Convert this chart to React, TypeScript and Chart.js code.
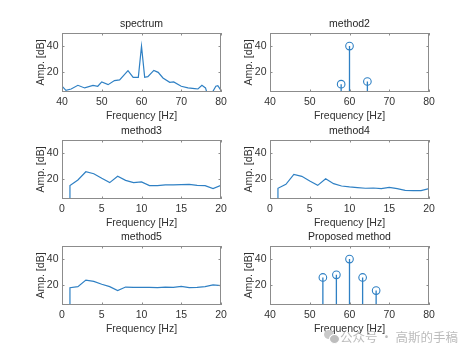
import React, { useEffect, useRef } from "react";
import { Chart, registerables } from "chart.js";
Chart.register(...registerables);

// ---------- data ----------
const specFreq = [40, 41, 42.3, 44, 45.7, 47.8, 49, 50, 51.6, 53.2, 54.5, 56.6, 57.9, 59.2, 60, 60.8, 61.6, 63.1, 64.2, 65.4, 67.1, 68.1, 70, 71.7, 73.4, 74.2, 75.2, 76.1, 76.7, 77.5, 78.7, 79.2, 80];
const specAmp = [9.4, 6.3, 7.3, 10.1, 8.1, 10.1, 9.4, 12.7, 10.6, 13.7, 14.2, 21.3, 16.2, 16.2, 40, 16.2, 16.7, 21.5, 20, 15.7, 12.4, 12.7, 9.4, 8.1, 7.6, 7.3, 10.1, 8.1, 2, 3, 9.4, 9.8, 6.3];

const m2Freq = [57.9, 60, 64.5];
const m2Amp = [11, 40, 13];

const lowFreq = [0.95, 1, 2, 3, 4, 5, 6, 7, 8, 9, 10, 11, 12, 13, 14, 15, 16, 17, 18, 19, 20];
const m3Amp = [-20, 15.2, 19.5, 25.8, 24.3, 20.8, 17.5, 22.3, 19.2, 17.5, 18, 15.2, 15.2, 15.7, 15.7, 16, 16.2, 15.4, 15.2, 12.9, 15.4];
const m4Amp = [-20, 13.2, 16.2, 23.8, 22.3, 18.7, 15.4, 20.5, 16.7, 14.9, 14.2, 13.7, 13.2, 13.4, 12.9, 13.9, 12.9, 11.6, 11.4, 11.4, 12.9];
const m5Amp = [-20, 18.2, 19, 24, 23, 20.8, 19, 16, 18.7, 18.5, 18.5, 18.5, 18.2, 18.7, 18.5, 19.2, 18.2, 18.5, 19, 20.3, 19.7];

const propFreq = [53.3, 56.7, 60, 63.3, 66.7];
const propAmp = [26, 28, 40, 26, 16];

const yTicks = [20, 40];
const highXTicks = [40, 50, 60, 70, 80];
const lowXTicks = [0, 5, 10, 15, 20];

const titles = ["spectrum", "method2", "method3", "method4", "method5", "Proposed method"];
const xLabel = "Frequency [Hz]";
const yLabel = "Amp. [dB]";

// ---------- layout constants ----------
const PAD_L = 50, PAD_T = 30, PAD_R = 12, PAD_B = 32;
const PLOT_W = 159, PLOT_H = 59;
const COL_LEFT = [62, 270];
const ROW_TOP = [33, 140, 246];

const LINE_COLOR = "#2f80c4";
const FONT_FAMILY = "'Liberation Sans', Arial, Helvetica, sans-serif";
const FONT_SIZE = 10.5;

type Spec = {
  title: string;
  kind: "line" | "stem";
  freq: number[];
  amp: number[];
  xTicks: number[];
  col: number;
  row: number;
};

const specs: Spec[] = [
  { title: titles[0], kind: "line", freq: specFreq, amp: specAmp, xTicks: highXTicks, col: 0, row: 0 },
  { title: titles[1], kind: "stem", freq: m2Freq, amp: m2Amp, xTicks: highXTicks, col: 1, row: 0 },
  { title: titles[2], kind: "line", freq: lowFreq, amp: m3Amp, xTicks: lowXTicks, col: 0, row: 1 },
  { title: titles[3], kind: "line", freq: lowFreq, amp: m4Amp, xTicks: lowXTicks, col: 1, row: 1 },
  { title: titles[4], kind: "line", freq: lowFreq, amp: m5Amp, xTicks: lowXTicks, col: 0, row: 2 },
  { title: titles[5], kind: "stem", freq: propFreq, amp: propAmp, xTicks: highXTicks, col: 1, row: 2 },
];

const boxPlugin = {
  id: "matlabBox",
  afterDatasetsDraw(chart: any) {
    const { ctx, chartArea: a, scales } = chart;
    ctx.save();
    ctx.strokeStyle = "#8c8c8c";
    ctx.lineWidth = 1;
    ctx.strokeRect(a.left + 0.5, a.top + 0.5, a.right - a.left - 1, a.bottom - a.top - 1);
    const tl = 2.5;
    ctx.beginPath();
    for (const t of scales.x.ticks) {
      const px = Math.round(scales.x.getPixelForValue(t.value)) + 0.5;
      ctx.moveTo(px, a.bottom);
      ctx.lineTo(px, a.bottom - tl);
      ctx.moveTo(px, a.top);
      ctx.lineTo(px, a.top + tl);
    }
    for (const t of scales.y.ticks) {
      const py = Math.round(scales.y.getPixelForValue(t.value)) + 0.5;
      ctx.moveTo(a.left, py);
      ctx.lineTo(a.left + tl, py);
      ctx.moveTo(a.right, py);
      ctx.lineTo(a.right - tl, py);
    }
    ctx.stroke();
    ctx.restore();
  },
};

function buildDatasets(s: Spec): any[] {
  if (s.kind === "line") {
    return [
      {
        type: "line",
        data: s.freq.map((f, i) => ({ x: f, y: s.amp[i] })),
        borderColor: LINE_COLOR,
        borderWidth: 1.2,
        pointRadius: 0,
        tension: 0,
      },
    ];
  }
  const stemPts: any[] = [];
  s.freq.forEach((f, i) => {
    stemPts.push({ x: f, y: 0 });
    stemPts.push({ x: f, y: s.amp[i] });
    stemPts.push({ x: f, y: null });
  });
  return [
    {
      type: "line",
      data: stemPts,
      borderColor: LINE_COLOR,
      borderWidth: 1.3,
      pointRadius: 0,
      spanGaps: false,
      tension: 0,
    },
    {
      type: "line",
      data: s.freq.map((f, i) => ({ x: f, y: s.amp[i] })),
      showLine: false,
      pointRadius: 3.8,
      pointBorderWidth: 1.1,
      pointBorderColor: LINE_COLOR,
      pointBackgroundColor: "rgba(0,0,0,0)",
    },
  ];
}

function SubPlot({ s }: { s: Spec }) {
  const ref = useRef<HTMLCanvasElement>(null);
  const w = PAD_L + PLOT_W + PAD_R;
  const h = PAD_T + PLOT_H + PAD_B;
  useEffect(() => {
    if (!ref.current) return;
    const xMin = s.xTicks[0];
    const xMax = s.xTicks[s.xTicks.length - 1];
    const font = { family: FONT_FAMILY, size: FONT_SIZE, weight: "normal" as const };
    const titlePadTop = PAD_T - 8.5 - (FONT_SIZE * 1.2) / 2;
    const titlePadBottom = PAD_T - titlePadTop - FONT_SIZE * 1.2;
    const chart = new Chart(ref.current, {
      type: "line",
      data: { datasets: buildDatasets(s) },
      plugins: [boxPlugin],
      options: {
        animation: false,
        responsive: false,
        devicePixelRatio: 1,
        layout: { padding: { left: 0, top: 0, right: PAD_R, bottom: 0 } },
        plugins: {
          legend: { display: false },
          tooltip: { enabled: false },
          title: {
            display: true,
            text: s.title,
            fullSize: false,
            color: "#262626",
            font,
            padding: { top: titlePadTop, bottom: titlePadBottom },
          },
        },
        scales: {
          x: {
            type: "linear",
            min: xMin,
            max: xMax,
            grid: { display: false, drawTicks: false },
            border: { display: false },
            afterBuildTicks: (sc: any) => {
              sc.ticks = s.xTicks.map((v) => ({ value: v }));
            },
            afterFit: (sc: any) => {
              sc.height = PAD_B;
            },
            ticks: { color: "#333333", font, padding: 4, maxRotation: 0, autoSkip: false },
            title: {
              display: true,
              text: xLabel,
              color: "#333333",
              font,
              padding: { top: 0, bottom: 1.7 },
            },
          },
          y: {
            type: "linear",
            min: 5,
            max: 50,
            grid: { display: false, drawTicks: false },
            border: { display: false },
            afterBuildTicks: (sc: any) => {
              sc.ticks = yTicks.map((v) => ({ value: v }));
            },
            afterFit: (sc: any) => {
              sc.width = PAD_L;
            },
            ticks: { color: "#333333", font, padding: 3.5 },
            title: {
              display: true,
              text: yLabel,
              color: "#333333",
              font,
              padding: { top: PAD_L - 20.7 - (FONT_SIZE * 1.2) / 2, bottom: 0 },
            },
          },
        },
      } as any,
    });
    return () => chart.destroy();
  }, [s]);
  return (
    <canvas
      ref={ref}
      width={w}
      height={h}
      style={{
        position: "absolute",
        left: COL_LEFT[s.col] - PAD_L,
        top: ROW_TOP[s.row] - PAD_T,
        width: w,
        height: h,
      }}
    />
  );
}

export default function App() {
  return (
    <div
      style={{
        position: "fixed",
        left: 0,
        top: 0,
        width: 474,
        height: 355,
        background: "#ffffff",
        overflow: "hidden",
      }}
    >
      {specs.map((s, i) => (
        <SubPlot key={i} s={s} />
      ))}
      <div
        style={{
          position: "absolute",
          left: 324,
          top: 329,
          width: 14,
          height: 14,
        }}
      >
        <div style={{ position: "absolute", left: 0, top: 1, width: 10, height: 9, borderRadius: "50%", background: "#c9c9c9" }} />
        <div style={{ position: "absolute", left: 5, top: 5, width: 9, height: 8, borderRadius: "50%", background: "#bdbdbd", border: "1px solid #fff" }} />
      </div>
      <div
        style={{
          position: "absolute",
          left: 340,
          top: 327,
          fontFamily: "'Noto Sans CJK SC', sans-serif",
          fontSize: 12.5,
          lineHeight: "20px",
          color: "#bcbcbc",
          whiteSpace: "nowrap",
        }}
      >
        公众号 · 高斯的手稿
      </div>
    </div>
  );
}
